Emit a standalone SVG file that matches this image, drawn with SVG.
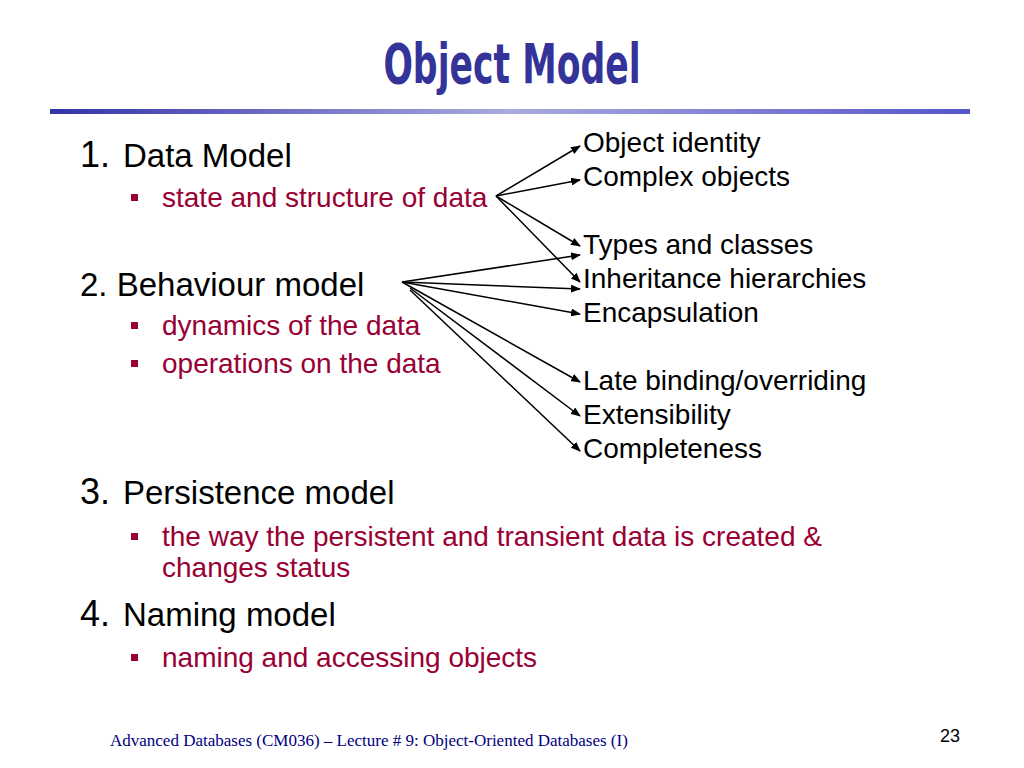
<svg xmlns="http://www.w3.org/2000/svg" width="1024" height="768" viewBox="0 0 1024 768">
<style>
.t{font-family:"Liberation Sans",Arial,sans-serif;fill:#000}
.r{font-family:"Liberation Sans",Arial,sans-serif;fill:#990033;font-size:28px}
.b{fill:#990033}
.c line{stroke:#000;stroke-width:1.5;marker-end:url(#a)}
</style>
<defs>
<marker id="a" markerWidth="10" markerHeight="8" refX="9" refY="4" orient="auto" markerUnits="userSpaceOnUse"><path d="M0,0 L10,4 L0,8 z" fill="#000"/></marker>
<linearGradient id="g" x1="0" x2="1"><stop offset="0" stop-color="#3333aa"/><stop offset="0.5" stop-color="#aaaadd"/><stop offset="1" stop-color="#5555cc"/></linearGradient>
</defs>
<rect width="1024" height="768" fill="#fff"/>
<text x="0" y="0" transform="translate(512,83) scale(0.77,1.1)" text-anchor="middle" font-family="'DejaVu Sans Condensed','DejaVu Sans',sans-serif" font-weight="bold" font-size="50" fill="#333399">Object Model</text>
<rect x="50" y="109" width="920" height="5" fill="url(#g)"/>
<g id="left">
<text class="t" x="80" y="167" font-size="36">1.</text><text class="t" x="123" y="167" font-size="33">Data Model</text>
<rect class="b" x="131" y="194" width="7" height="7"/><text class="r" x="162" y="207">state and structure of data</text>
<text class="t" x="80" y="296" font-size="33">2. Behaviour model</text>
<rect class="b" x="131" y="322" width="7" height="7"/><text class="r" x="162" y="335">dynamics of the data</text>
<rect class="b" x="131" y="360" width="7" height="7"/><text class="r" x="162" y="373">operations on the data</text>
<text class="t" x="80" y="504" font-size="36">3.</text><text class="t" x="123" y="504" font-size="33">Persistence model</text>
<rect class="b" x="131" y="533" width="7" height="7"/><text class="r" x="162" y="546">the way the persistent and transient data is created &amp;</text>
<text class="r" x="162" y="577">changes status</text>
<text class="t" x="80" y="626" font-size="36">4.</text><text class="t" x="123" y="626" font-size="33">Naming model</text>
<rect class="b" x="131" y="654" width="7" height="7"/><text class="r" x="162" y="667">naming and accessing objects</text>
</g>
<g id="right" class="t" font-size="28">
<text x="583" y="152">Object identity</text>
<text x="583" y="186">Complex objects</text>
<text x="583" y="254">Types and classes</text>
<text x="583" y="288">Inheritance hierarchies</text>
<text x="583" y="322">Encapsulation</text>
<text x="583" y="390">Late binding/overriding</text>
<text x="583" y="424">Extensibility</text>
<text x="583" y="458">Completeness</text>
</g>
<g id="connectors" class="c">
<line x1="496" y1="196" x2="580" y2="146"/>
<line x1="496" y1="196" x2="580" y2="180"/>
<line x1="496" y1="196" x2="580" y2="246"/>
<line x1="496" y1="196" x2="580" y2="282"/>
<line x1="402" y1="282" x2="580" y2="255"/>
<line x1="402" y1="282" x2="580" y2="289"/>
<line x1="402" y1="282" x2="580" y2="314"/>
<line x1="402" y1="282" x2="580" y2="382"/>
<line x1="410" y1="288" x2="580" y2="416"/>
<line x1="410" y1="290" x2="580" y2="451"/>
</g>
<text x="110" y="746" font-family="'Liberation Serif',serif" font-size="17" fill="#000080">Advanced Databases (CM036) – Lecture # 9: Object-Oriented Databases (I)</text>
<text x="940" y="742" font-family="'Liberation Sans',sans-serif" font-size="18">23</text>
</svg>
